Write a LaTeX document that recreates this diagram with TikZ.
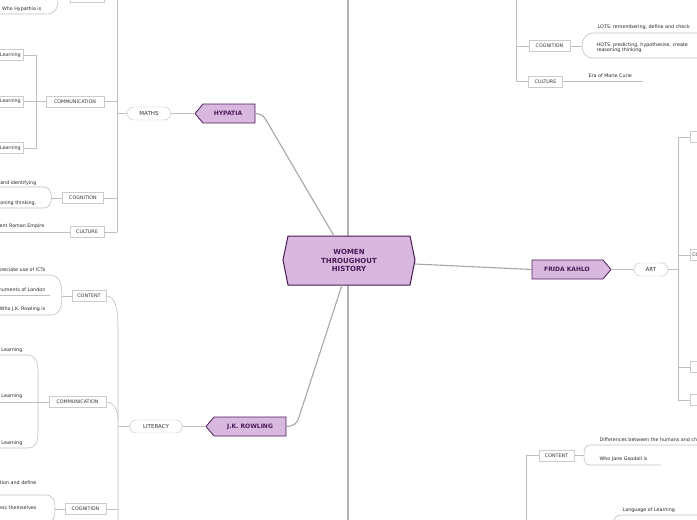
\documentclass[tikz,border=0pt]{standalone}
\usepackage{fontspec}
\setmainfont{DejaVu Sans}
\begin{document}
\begin{tikzpicture}[x=1pt,y=-1pt,
  ln/.style={draw=black!25,line width=0.6pt},
  main/.style={draw=black!35,line width=1.1pt},
  sub/.style={draw=black!20,fill=white,line width=0.5pt,font=\fontsize{4.8}{5}\selectfont,inner sep=0pt,minimum height=11pt,text=black!80},
  pill/.style={draw=black!25,fill=white,rounded corners=6pt,font=\fontsize{5.5}{6}\selectfont,inner sep=0pt,minimum height=13pt,text=black!80},
  leaf/.style={font=\fontsize{4.8}{5.5}\selectfont,inner sep=0.5pt,text=black!85},
  who/.style={fill=pfill,draw=pdark,line width=0.8pt}]
\definecolor{pfill}{HTML}{D9B8E0}
\definecolor{pdark}{HTML}{4A1A57}
\useasboundingbox (0,0) rectangle (697,520);
\clip (0,0) rectangle (697,520);
% spine
\draw[black!30,line width=1.6pt] (348,0) -- (348,520);
% center
\path[fill=pfill,draw=pdark,line width=1pt] (283,260) -- (288,236) -- (410,236) -- (415,260) -- (410,285) -- (288,285) -- cycle;
\node[font=\bfseries\fontsize{7}{8.5}\selectfont,text=pdark,align=center] (c) at (349,260.5) {WOMEN\\THROUGHOUT\\HISTORY};
% HYPATIA
\path[who] (203,104) -- (255,104) -- (255,123) -- (203,123) -- (195,113.5) -- cycle;
\node[font=\bfseries\fontsize{6}{7}\selectfont,text=pdark] (hy) at (228,113.5) {HYPATIA};
% J.K. ROWLING
\path[who] (214,417) -- (286,417) -- (286,436) -- (214,436) -- (206,426.5) -- cycle;
\node[font=\bfseries\fontsize{6}{7}\selectfont,text=pdark] (jk) at (250,426.5) {J.K. ROWLING};
% FRIDA
\path[who] (532,260) -- (603,260) -- (611,269.5) -- (603,279) -- (532,279) -- cycle;
\node[font=\bfseries\fontsize{6}{7}\selectfont,text=pdark] (fk) at (567,269.5) {FRIDA KAHLO};
% connectors from center
\begin{scope}[on background layer/.style={}]
\draw[main] (334,236) -- (266,120) .. controls (263,115) and (260,113.5) .. (255,113.5);
\draw[main] (342,285) -- (299,417) .. controls (297,424) and (293,426.5) .. (286,426.5);
\draw[main] (415,264) -- (532,269.5);
\end{scope}
\node[pill,minimum width=43pt] (maths) at (149,113.5) {MATHS};
\draw[ln] (maths.east) -- (195,113.5);
\draw[ln] (117,0) -- (117,232);
\draw[ln] (117,113.5) -- (maths.west);
\node[sub,minimum width=58pt] (hcomm) at (75,101.5) {COMMUNICATION};
\node[sub,minimum width=41pt] (hcog) at (83,198) {COGNITION};
\node[sub,minimum width=34pt] (hcul) at (87,232) {CULTURE};
\node[sub,minimum width=34pt] (hcon) at (87,-3) {CONTENT};
\draw[ln] (117,101.5) -- (hcomm.east) (117,198) -- (hcog.east) (117,232) -- (hcul.east);
\draw[ln] (hcomm.west) -- (36,101.5);
\draw[ln] (23,55) -- (36,55) -- (36,148) -- (23,148);
\draw[ln] (23,101.5) -- (36,101.5);
\foreach \y in {55,101.5,148}{\node[sub,anchor=east,minimum width=40pt] at (23,\y) {\hspace*{4pt}Language of Learning\hspace*{2pt}};}
\draw[ln] (hcog.west) -- (52,198);
\draw[ln] (0,187) -- (44,187) .. controls (54,187) and (54,208) .. (44,208) -- (0,208);
\node[leaf,anchor=east] at (37,183) {Linking and identifying};
\node[leaf,anchor=east] at (37,203) {reasoning thinking.};
\draw[ln] (hcul.west) -- (0,232);
\node[leaf,anchor=east] at (45,226) {Ancient Roman Empire};
\draw[ln] (hcon.west) -- (58,-3);
\draw[ln] (0,14) -- (46,14) .. controls (56,14) and (58,8) .. (58,-3);
\node[leaf,anchor=east] at (42,9) {Who Hypathia is};
\node[pill,minimum width=52pt] (lit) at (156,426.5) {LITERACY};
\draw[ln] (lit.east) -- (206,426.5);
\draw[ln] (lit.west) -- (118,426.5);
\node[sub,minimum width=34pt] (jcon) at (89,296) {CONTENT};
\node[sub,minimum width=57pt] (jcomm) at (77.5,402) {COMMUNICATION};
\node[sub,minimum width=41pt] (jcog) at (85.5,509) {COGNITION};
\draw[ln] (jcon.east) .. controls (116,296) and (118,310) .. (118,330) -- (118,520);
\draw[ln] (jcomm.east) .. controls (114,402) and (118,410) .. (118,420);
\draw[ln] (jcog.east) -- (118,509);
\draw[ln] (jcon.west) -- (62,296);
\draw[ln] (0,275) -- (50,275) .. controls (60,275) and (62,285) .. (62,296) .. controls (62,307) and (60,315) .. (50,315) -- (0,315);
\node[leaf,anchor=east] at (46,270) {Appreciate use of ICTs};
\node[leaf,anchor=east] at (46,290) {Monuments of London};
\draw[ln] (0,295.5) -- (50,295.5);
\node[leaf,anchor=east] at (46,309) {Who J.K. Rowling is};
\draw[ln] (jcomm.west) -- (38,402);
\draw[ln] (0,355) -- (27,355) .. controls (36,355) and (38,362) .. (38,372) -- (38,432) .. controls (38,442) and (36,448) .. (27,448) -- (0,448);
\draw[ln] (0,402) -- (38,402);
\node[leaf,anchor=east] at (23,350) {Language of Learning};
\node[leaf,anchor=east] at (23,396) {Language for Learning};
\node[leaf,anchor=east] at (23,443) {Language through Learning};
\draw[ln] (jcog.west) -- (55,509);
\draw[ln] (0,495) -- (45,495) .. controls (53,495) and (55,500) .. (55,509) .. controls (55,518) and (53,523) .. (45,523);
\node[leaf,anchor=east] at (37,483) {Remember, question and define};
\node[leaf,anchor=east] at (37,508) {Express themselves};
% right top
\draw[ln] (516,0) -- (516,82);
\node[sub,minimum width=41pt] (mcog) at (549.5,46) {COGNITION};
\node[sub,minimum width=34pt] (mcul) at (545.5,81.5) {CULTURE};
\draw[ln] (516,46) -- (mcog.west) (516,81.5) -- (mcul.west);
\draw[ln] (mcog.east) -- (582,46);
\draw[ln] (697,33) -- (594,33) .. controls (585,33) and (582,40) .. (582,46) .. controls (582,52) and (585,58) .. (594,58) -- (697,58);
\node[leaf,anchor=west] at (597,27) {LOTS: remembering, define and check};
\node[leaf,anchor=north west,align=left] at (596,42) {HOTS: predicting, hypothesise, create\\reasoning thinking.};
\draw[ln] (mcul.east) -- (643,81.5);
\node[leaf,anchor=west] at (588,76) {Era of Marie Curie};
\node[pill,minimum width=34pt] (art) at (651,269.5) {ART};
\draw[ln] (611,269.5) -- (art.west);
\draw[ln] (art.east) -- (678,269.5);
\draw[ln] (678,137) -- (678,400);
\foreach \y/\t in {137/CONTENT,255/COMMUNICATION,367/COGNITION,400/CULTURE}{
  \node[sub,anchor=west,minimum width=40pt] (a\y) at (690,\y) {\hspace*{2pt}\t};
  \draw[ln] (678,\y) -- (a\y.west);}
\draw[ln] (526,456) -- (526,520);
\node[sub,minimum width=35pt] (gcon) at (556.5,455.5) {CONTENT};
\draw[ln] (526,455.5) -- (gcon.west);
\draw[ln] (gcon.east) -- (584,455.5);
\draw[ln] (697,445) -- (590,445) .. controls (585,445) and (584,450) .. (584,455.5) .. controls (584,461) and (585,465) .. (590,465) -- (661,465);
\node[leaf,anchor=west] at (599,440) {Differences between the humans and chimpanzees};
\node[leaf,anchor=west] at (599,459) {Who Jane Goodall is};
\node[leaf,anchor=west] at (622,510) {Language of Learning};
\draw[ln] (697,515) -- (622,515) .. controls (616,515) and (614,518) .. (614,522);
\end{tikzpicture}
\end{document}
